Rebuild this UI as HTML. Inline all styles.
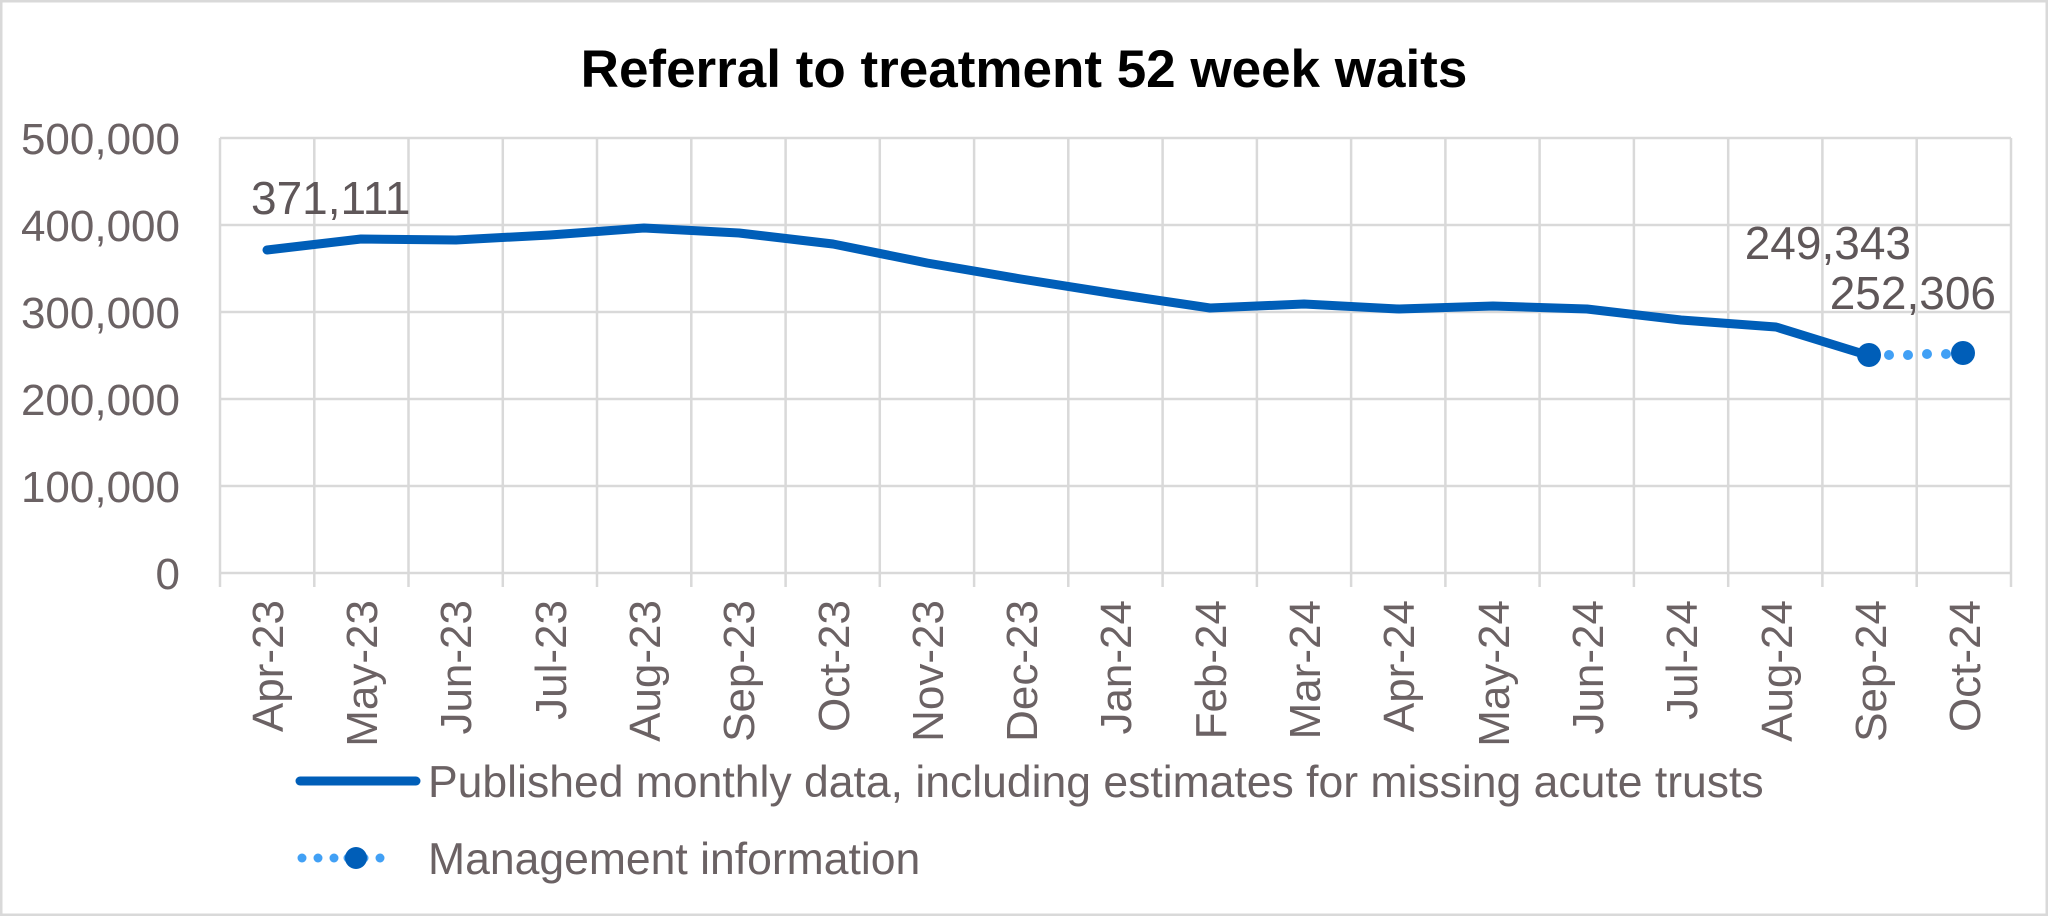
<!DOCTYPE html>
<html><head><style>body{margin:0;background:#fff}svg{display:block}</style></head><body>
<svg width="2048" height="916" xmlns="http://www.w3.org/2000/svg" font-family="Liberation Sans, Arial, sans-serif">
<rect x="1" y="1" width="2046" height="914" fill="#fff" stroke="#d9d9d9" stroke-width="3"/>
<text x="1024" y="87" text-anchor="middle" font-size="53" font-weight="bold" fill="#000">Referral to treatment 52 week waits</text>
<g stroke="#d9d9d9" stroke-width="2.5">
<line x1="220" y1="138" x2="2011" y2="138"/><line x1="220" y1="225" x2="2011" y2="225"/><line x1="220" y1="312" x2="2011" y2="312"/><line x1="220" y1="399" x2="2011" y2="399"/><line x1="220" y1="486" x2="2011" y2="486"/><line x1="220" y1="573" x2="2011" y2="573"/>
<line x1="220.0" y1="138" x2="220.0" y2="587"/><line x1="314.3" y1="138" x2="314.3" y2="587"/><line x1="408.5" y1="138" x2="408.5" y2="587"/><line x1="502.8" y1="138" x2="502.8" y2="587"/><line x1="597.0" y1="138" x2="597.0" y2="587"/><line x1="691.3" y1="138" x2="691.3" y2="587"/><line x1="785.6" y1="138" x2="785.6" y2="587"/><line x1="879.8" y1="138" x2="879.8" y2="587"/><line x1="974.1" y1="138" x2="974.1" y2="587"/><line x1="1068.3" y1="138" x2="1068.3" y2="587"/><line x1="1162.6" y1="138" x2="1162.6" y2="587"/><line x1="1256.9" y1="138" x2="1256.9" y2="587"/><line x1="1351.1" y1="138" x2="1351.1" y2="587"/><line x1="1445.4" y1="138" x2="1445.4" y2="587"/><line x1="1539.6" y1="138" x2="1539.6" y2="587"/><line x1="1633.9" y1="138" x2="1633.9" y2="587"/><line x1="1728.2" y1="138" x2="1728.2" y2="587"/><line x1="1822.4" y1="138" x2="1822.4" y2="587"/><line x1="1916.7" y1="138" x2="1916.7" y2="587"/><line x1="2011" y1="138" x2="2011" y2="587"/>
</g>
<g font-size="44" fill="#6b6264" text-anchor="end">
<text x="180" y="154">500,000</text><text x="180" y="241">400,000</text><text x="180" y="328">300,000</text><text x="180" y="415">200,000</text><text x="180" y="502">100,000</text><text x="180" y="589">0</text>
</g>
<g font-size="44" fill="#6b6264" text-anchor="end">
<text transform="translate(283,600) rotate(-90)">Apr-23</text>
<text transform="translate(377,600) rotate(-90)">May-23</text>
<text transform="translate(471,600) rotate(-90)">Jun-23</text>
<text transform="translate(566,600) rotate(-90)">Jul-23</text>
<text transform="translate(660,600) rotate(-90)">Aug-23</text>
<text transform="translate(754,600) rotate(-90)">Sep-23</text>
<text transform="translate(849,600) rotate(-90)">Oct-23</text>
<text transform="translate(943,600) rotate(-90)">Nov-23</text>
<text transform="translate(1037,600) rotate(-90)">Dec-23</text>
<text transform="translate(1131,600) rotate(-90)">Jan-24</text>
<text transform="translate(1226,600) rotate(-90)">Feb-24</text>
<text transform="translate(1320,600) rotate(-90)">Mar-24</text>
<text transform="translate(1414,600) rotate(-90)">Apr-24</text>
<text transform="translate(1509,600) rotate(-90)">May-24</text>
<text transform="translate(1603,600) rotate(-90)">Jun-24</text>
<text transform="translate(1697,600) rotate(-90)">Jul-24</text>
<text transform="translate(1792,600) rotate(-90)">Aug-24</text>
<text transform="translate(1886,600) rotate(-90)">Sep-24</text>
<text transform="translate(1980,600) rotate(-90)">Oct-24</text>
</g>
<polyline fill="none" stroke="#005EB8" stroke-width="9" stroke-linejoin="round" stroke-linecap="round" points="267,250 361,239 456,240 550,235 644,228 739,233 833,244 927,263 1021,279 1116,294 1210,308 1304,304 1399,309 1493,306 1587,309 1681,320 1776,327 1870,356"/>
<g fill="#41A0F5"><circle cx="1889" cy="355" r="5"/><circle cx="1908" cy="355" r="5"/><circle cx="1927" cy="354" r="5"/><circle cx="1946" cy="354" r="5"/></g>
<circle cx="1869" cy="355" r="12" fill="#005EB8"/><circle cx="1963" cy="353" r="12" fill="#005EB8"/>
<g font-size="46" fill="#5f5759">
<text x="251" y="214">371,111</text>
<text x="1911" y="259" text-anchor="end">249,343</text>
<text x="1996" y="309" text-anchor="end">252,306</text>
</g>
<line x1="300" y1="781" x2="416" y2="781" stroke="#005EB8" stroke-width="9" stroke-linecap="round"/>
<g fill="#41A0F5"><circle cx="302" cy="858" r="4.5"/><circle cx="318" cy="858" r="4.5"/><circle cx="334" cy="858" r="4.5"/><circle cx="348" cy="858" r="4.5"/><circle cx="364" cy="858" r="4.5"/><circle cx="380" cy="858" r="4.5"/></g>
<circle cx="356" cy="858" r="11" fill="#005EB8"/>
<g font-size="44.5" fill="#6b6264">
<text x="428" y="797">Published monthly data, including estimates for missing acute trusts</text>
<text x="428" y="874">Management information</text>
</g>
</svg>
</body></html>
